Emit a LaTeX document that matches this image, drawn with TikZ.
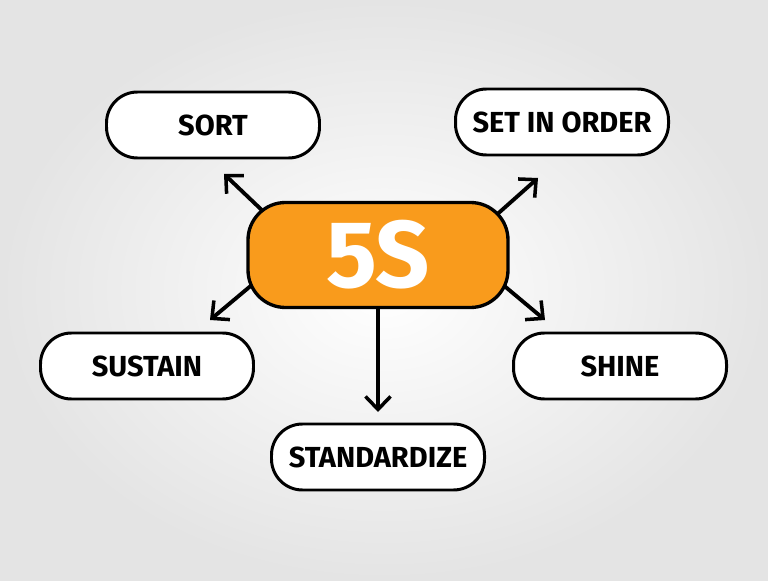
\documentclass[tikz,border=0pt]{standalone}
\usepackage{fontspec}
\setsansfont{Fira Sans}
\usetikzlibrary{arrows.meta,positioning}
\pgfdeclarelayer{back}
\pgfdeclarelayer{mid}
\pgfsetlayers{back,mid,main}
\definecolor{fsorange}{HTML}{F99B1C}
\definecolor{fsback}{HTML}{E4E4E4}
\tikzset{
    centre/.style={
    rectangle,rounded corners=0.75cm,draw=black,line width=1.9pt,fill=fsorange,
    minimum width=5.2cm,minimum height=2.1cm,inner sep=0pt,
    text=white,font=\sffamily\bfseries\fontsize{54}{54}\selectfont
    },
    pillar/.style={
    rectangle,rounded corners=0.62cm,draw=black,line width=1.7pt,fill=white,
    minimum width=4.26cm,minimum height=1.32cm,inner sep=0pt,
    font=\sffamily\bfseries\fontsize{16.5}{16.5}\selectfont
    },
    link/.style={
    -{Straight Barb[length=0.26cm,width=0.5cm,line width=2pt]},line width=2.2pt
    },
}
\begin{document}
\begin{tikzpicture}
   \useasboundingbox (0,0) rectangle (15.36,11.6);
   \begin{pgfonlayer}{back}
   \shade[inner color=white,outer color=fsback] (0,0) rectangle (15.36,11.6);
   \end{pgfonlayer}

   %centre
   \node[centre] (fives) at (7.56,6.50) {5S};

   %arrow ends
   \coordinate[below right=0.5cm and 0.64cm of fives.north west] (ssort);
   \coordinate[below left=0.58cm and 0.6cm of fives.north east] (sset);
   \coordinate[above right=0.76cm and 0.44cm of fives.south west] (ssus);
   \coordinate[above left=0.76cm and 0.46cm of fives.south east] (sshine);
   \coordinate (tsort) at (4.48,8.12);
   \coordinate (tset) at (10.76,8.04);
   \coordinate (tsus) at (4.20,5.20);
   \coordinate (tshine) at (10.90,5.20);
   \coordinate (tstd) at (7.56,3.36);

   %pillars
   \node[pillar] (sort) at (4.26,9.10) {SORT};
   \node[pillar] (setorder) at (11.24,9.16) {SET IN ORDER};
   \node[pillar] (sustain) at (2.94,4.28) {SUSTAIN};
   \node[pillar] (shine) at (12.40,4.28) {SHINE};
   \node[pillar] (standard) at (7.56,2.46) {STANDARDIZE};

  \begin{pgfonlayer}{mid}
  \path
    (ssort) edge[link] (tsort)
    (sset) edge[link] (tset)
    (ssus) edge[link] (tsus)
    (sshine) edge[link] (tshine)
    (fives.south) edge[link] (tstd);
  \end{pgfonlayer}
  \end{tikzpicture}
\end{document}
